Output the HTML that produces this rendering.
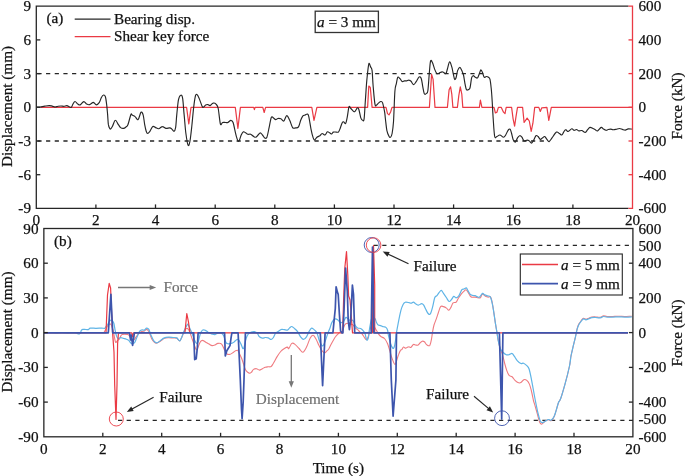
<!DOCTYPE html><html><head><meta charset="utf-8"><style>html,body{margin:0;padding:0;background:#fff;width:685px;height:476px;overflow:hidden}</style></head><body><svg width="685" height="476" viewBox="0 0 685 476" style="display:block;font-family:'Liberation Serif',serif;font-size:15.2px">
<style>.t{fill:#111;stroke:#111;stroke-width:.25px}.g{fill:#6f6f6f;stroke:#6f6f6f;stroke-width:.2px}</style>
<line x1="36.3" y1="73.6" x2="484" y2="73.6" stroke="#262626" stroke-width="1.3" stroke-dasharray="4.2,4.46" stroke-dashoffset="7.56"/>
<line x1="36.3" y1="141.0" x2="544.5" y2="141.0" stroke="#262626" stroke-width="1.3" stroke-dasharray="4.2,4.46" stroke-dashoffset="7.56"/>
<polyline points="40.4,107.4 186.6,107.4 188.8,124.0 191.0,107.4 235.3,107.4 237.9,128.4 240.4,107.4 253.7,107.4 254.4,109.7 255.1,107.4 262.8,107.4 264.2,112.5 265.6,107.4 311.8,107.4 314.0,120.3 316.9,107.4 367.6,107.4 368.8,86.0 370.3,87.5 372.1,107.4 386.0,107.4 387.5,113.6 389.0,114.9 390.6,112.0 392.0,107.4 429.4,107.4 431.6,74.3 433.1,79.4 435.0,107.4 447.4,107.4 449.1,89.7 450.6,86.8 451.8,94.1 452.9,107.4 457.4,107.4 458.8,95.6 460.3,86.8 461.8,94.1 462.8,107.4 479.4,107.4 480.4,100.0 481.9,107.4 494.0,107.4 495.4,113.0 496.9,112.2 498.4,107.4 501.3,107.4 503.5,112.2 505.0,113.7 506.2,107.4 511.6,107.4 513.1,118.8 514.6,126.2 516.0,116.6 517.5,107.4 522.6,107.4 524.1,122.5 527.1,118.1 529.3,121.0 531.2,131.3 532.9,123.2 534.7,107.4 538.8,107.4 540.3,111.5 541.8,107.8 546.9,107.4 548.8,120.3 551.3,107.4 632.0,107.4" fill="none" stroke="#ea3a44" stroke-width="1.2" stroke-linejoin="round" />
<path d="M37.0,107.0 C37.6,107.0 39.1,107.2 40.4,107.0 C41.7,106.8 43.3,106.3 44.8,106.1 C46.3,105.9 48.0,105.6 49.2,105.6 C50.4,105.6 51.2,105.9 52.2,106.1 C53.2,106.3 54.1,107.0 55.1,107.0 C56.1,107.0 57.0,106.5 58.0,106.3 C59.0,106.1 60.0,106.0 61.0,106.0 C62.0,106.0 62.9,106.4 63.9,106.3 C64.9,106.2 66.0,105.5 66.9,105.6 C67.8,105.7 68.4,106.5 69.1,106.8 C69.8,107.1 70.6,107.8 71.3,107.3 C72.0,106.8 72.4,105.0 73.0,104.0 C73.6,103.0 74.2,101.5 75.0,101.5 C75.8,101.5 77.1,103.5 77.9,104.1 C78.8,104.7 79.1,105.3 80.1,104.9 C81.1,104.5 82.7,101.7 83.8,101.6 C84.9,101.5 85.7,103.6 86.7,104.1 C87.7,104.6 88.6,104.9 89.7,104.6 C90.8,104.3 92.3,102.4 93.4,102.4 C94.5,102.5 95.3,104.9 96.3,104.9 C97.3,104.9 98.3,103.8 99.2,102.6 C100.1,101.4 100.7,98.8 101.4,97.5 C102.1,96.2 102.9,95.1 103.6,95.0 C104.3,94.9 104.9,95.3 105.4,96.8 C105.9,98.3 106.2,101.2 106.6,104.1 C107.0,107.0 107.3,111.0 107.6,114.4 C107.9,117.8 108.0,122.2 108.4,124.7 C108.9,127.2 109.6,128.8 110.3,129.1 C111.0,129.3 111.7,127.7 112.5,126.2 C113.3,124.7 114.4,120.5 115.4,120.3 C116.4,120.0 117.5,123.5 118.4,124.7 C119.3,125.9 119.8,127.0 120.6,127.6 C121.4,128.2 122.7,128.5 123.5,128.4 C124.3,128.3 125.0,127.8 125.7,127.2 C126.4,126.6 127.0,126.8 127.9,124.7 C128.8,122.6 130.2,116.0 130.9,114.4 C131.6,112.8 131.5,114.7 132.2,115.1 C132.9,115.5 134.1,115.8 135.1,116.6 C136.1,117.3 137.1,120.3 138.1,119.6 C139.1,118.9 140.2,113.0 141.0,112.2 C141.8,111.5 142.6,113.0 143.2,115.1 C143.8,117.2 144.2,122.0 144.7,124.7 C145.2,127.4 145.7,129.8 146.2,131.3 C146.7,132.8 147.0,133.5 147.6,133.5 C148.2,133.5 149.0,132.5 149.9,131.3 C150.8,130.1 151.8,127.1 152.8,126.5 C153.8,125.9 154.7,127.2 155.7,127.6 C156.7,128.0 157.6,128.9 158.7,128.7 C159.8,128.5 161.2,126.6 162.4,126.6 C163.6,126.5 164.8,128.2 166.0,128.4 C167.2,128.6 168.7,127.8 169.7,127.9 C170.7,128.0 171.2,128.5 171.9,129.1 C172.6,129.7 173.5,131.6 174.1,131.3 C174.7,131.1 175.1,130.4 175.6,127.6 C176.1,124.8 176.3,119.1 176.8,114.4 C177.3,109.8 177.8,102.9 178.5,99.7 C179.2,96.5 180.0,95.5 180.7,95.3 C181.4,95.0 182.0,95.0 182.6,98.2 C183.2,101.4 183.5,108.5 184.1,114.4 C184.7,120.3 185.2,128.3 185.9,133.5 C186.6,138.7 187.4,144.1 188.1,145.3 C188.8,146.5 189.4,144.1 190.0,140.9 C190.6,137.7 191.2,131.8 191.8,126.2 C192.4,120.6 193.1,112.1 193.7,107.1 C194.3,102.1 194.9,98.1 195.4,96.0 C195.9,93.9 196.3,94.2 196.9,94.6 C197.5,95.0 198.2,96.2 199.1,98.2 C200.0,100.2 201.4,104.8 202.1,106.3 C202.8,107.8 202.9,107.3 203.5,107.1 C204.1,106.9 205.0,105.3 205.7,104.9 C206.4,104.5 207.2,104.5 207.9,104.6 C208.6,104.7 209.2,105.8 210.1,105.6 C211.0,105.3 212.1,103.3 213.1,103.1 C214.1,102.8 215.2,103.2 216.0,104.1 C216.8,105.0 217.5,105.2 218.2,108.5 C218.9,111.8 219.7,121.7 220.4,124.0 C221.1,126.3 221.7,122.8 222.6,122.5 C223.5,122.2 224.7,122.5 225.6,122.5 C226.5,122.5 227.0,122.9 227.9,122.5 C228.8,122.1 230.0,120.3 230.9,120.3 C231.8,120.3 232.4,120.5 233.1,122.5 C233.8,124.5 234.7,129.5 235.3,132.1 C235.9,134.7 236.3,136.4 236.8,137.9 C237.3,139.4 237.7,141.1 238.2,141.3 C238.7,141.6 239.2,140.5 239.7,139.4 C240.2,138.3 240.6,136.3 241.2,135.0 C241.8,133.7 242.7,132.2 243.4,131.8 C244.1,131.4 244.9,132.4 245.6,132.8 C246.3,133.2 247.0,134.1 247.8,134.3 C248.7,134.6 249.7,133.9 250.7,134.3 C251.7,134.7 252.8,136.0 253.7,136.5 C254.6,137.0 255.2,137.4 255.9,137.2 C256.6,136.9 257.4,135.7 258.1,135.0 C258.8,134.3 259.6,132.8 260.3,132.8 C261.0,132.8 261.8,134.2 262.5,135.0 C263.2,135.8 264.0,137.5 264.7,137.9 C265.4,138.3 266.2,138.9 266.9,137.2 C267.6,135.5 268.4,130.9 269.1,127.6 C269.8,124.3 270.6,119.0 271.3,117.4 C272.0,115.8 272.8,117.7 273.5,118.1 C274.2,118.5 275.0,119.5 275.7,119.6 C276.4,119.7 277.0,118.6 277.9,118.5 C278.8,118.4 279.9,118.4 280.9,118.8 C281.9,119.2 282.8,121.5 283.8,121.0 C284.8,120.5 285.8,115.7 286.8,115.6 C287.8,115.5 288.7,118.3 289.7,120.3 C290.7,122.3 291.6,126.3 292.6,127.6 C293.6,128.9 294.6,128.0 295.6,127.9 C296.6,127.8 297.6,128.2 298.5,126.9 C299.4,125.6 300.0,122.1 300.7,120.3 C301.4,118.5 302.2,116.8 302.9,115.9 C303.6,115.0 304.4,115.4 305.1,115.1 C305.9,114.8 306.8,113.8 307.4,114.1 C308.0,114.3 308.2,114.1 308.8,116.6 C309.4,119.1 310.3,125.5 311.0,129.1 C311.7,132.7 312.6,136.1 313.2,137.9 C313.8,139.7 314.1,140.2 314.7,140.1 C315.3,140.0 316.0,137.9 316.9,137.2 C317.8,136.5 319.0,136.3 319.9,135.7 C320.8,135.1 321.2,133.6 322.1,133.5 C323.0,133.4 324.2,135.3 325.1,135.0 C326.0,134.7 326.6,132.2 327.4,131.8 C328.1,131.4 328.9,132.4 329.6,132.8 C330.3,133.2 331.2,134.1 331.8,134.0 C332.4,133.9 332.5,132.4 333.2,132.1 C333.9,131.8 335.3,132.1 336.2,132.1 C337.1,132.1 337.8,132.6 338.4,132.1 C339.0,131.6 339.3,130.6 339.9,129.1 C340.5,127.6 341.5,124.1 342.1,122.9 C342.7,121.7 342.9,121.7 343.5,121.8 C344.1,121.9 345.1,124.2 345.7,123.5 C346.3,122.8 346.6,120.2 347.2,117.4 C347.8,114.6 348.4,108.3 349.0,106.8 C349.6,105.3 350.0,107.7 350.9,108.5 C351.8,109.3 353.3,111.9 354.4,111.8 C355.5,111.7 356.7,108.1 357.5,107.8 C358.3,107.5 358.4,108.3 359.0,110.0 C359.6,111.7 360.3,116.4 360.9,118.1 C361.5,119.8 362.1,120.2 362.6,120.3 C363.1,120.4 363.6,122.2 364.1,118.8 C364.6,115.4 364.9,106.6 365.4,100.0 C365.9,93.4 366.3,85.4 366.9,79.4 C367.5,73.4 368.2,66.1 368.8,64.0 C369.4,61.9 370.1,65.8 370.6,66.9 C371.2,68.0 371.7,67.3 372.1,70.6 C372.5,73.9 372.7,81.2 373.2,86.8 C373.7,92.4 374.4,101.4 375.0,104.4 C375.6,107.5 375.9,105.3 376.5,105.1 C377.1,104.8 378.0,103.5 378.7,102.9 C379.4,102.3 380.2,101.5 380.9,101.5 C381.5,101.5 382.0,101.2 382.6,102.9 C383.2,104.6 384.1,109.2 384.6,111.8 C385.1,114.4 385.0,115.7 385.4,118.8 C385.8,121.9 386.3,127.6 386.9,130.6 C387.5,133.5 388.5,135.4 389.1,136.5 C389.7,137.6 390.1,137.7 390.6,137.2 C391.1,136.7 391.6,136.1 392.1,133.5 C392.6,130.9 393.0,128.8 393.5,121.8 C394.0,114.8 394.4,97.5 394.9,91.2 C395.4,84.9 395.8,86.1 396.3,83.8 C396.8,81.5 397.2,78.0 397.8,77.2 C398.4,76.4 399.3,78.0 400.0,78.7 C400.7,79.4 401.5,81.2 402.2,81.6 C402.9,82.0 403.7,81.0 404.4,80.9 C405.1,80.8 405.9,81.0 406.6,80.9 C407.3,80.8 408.1,80.0 408.8,80.1 C409.5,80.1 410.2,80.5 411.0,81.2 C411.8,82.0 412.6,84.5 413.5,84.6 C414.4,84.7 415.3,82.9 416.2,81.6 C417.1,80.3 418.2,77.4 419.1,76.9 C420.0,76.4 420.7,77.1 421.3,78.7 C421.9,80.3 422.3,84.3 422.8,86.8 C423.3,89.3 423.7,92.7 424.3,93.8 C424.9,94.9 425.9,94.0 426.5,93.4 C427.1,92.8 427.4,94.0 427.9,90.4 C428.4,86.9 428.9,77.0 429.4,72.1 C429.8,67.2 430.1,62.6 430.6,61.0 C431.1,59.4 431.7,61.1 432.4,62.5 C433.1,63.9 433.9,67.3 434.6,69.1 C435.3,70.9 436.1,72.8 436.8,73.5 C437.5,74.2 438.3,73.4 439.0,73.2 C439.7,73.0 440.6,72.3 441.2,72.1 C441.8,71.9 442.1,71.8 442.9,72.0 C443.7,72.2 445.1,74.0 445.9,73.5 C446.6,73.0 446.8,71.0 447.4,69.0 C448.0,67.0 448.9,62.1 449.6,61.8 C450.3,61.4 451.2,65.0 451.8,66.9 C452.4,68.9 452.7,71.4 453.2,73.5 C453.7,75.6 454.2,78.8 454.7,79.4 C455.2,80.0 455.7,78.7 456.2,77.2 C456.7,75.7 457.0,72.2 457.6,70.6 C458.2,69.0 459.2,67.4 459.9,67.4 C460.6,67.4 461.2,69.3 461.8,70.6 C462.4,71.9 463.0,72.8 463.5,75.0 C464.0,77.2 464.5,81.3 465.0,83.8 C465.5,86.2 465.9,88.8 466.5,89.7 C467.1,90.6 468.1,89.8 468.7,89.4 C469.3,89.0 469.6,89.4 470.1,87.5 C470.6,85.6 471.1,79.9 471.6,77.9 C472.1,75.9 472.5,75.8 473.1,75.7 C473.7,75.6 474.6,76.8 475.3,77.2 C476.0,77.6 476.8,78.5 477.5,77.9 C478.2,77.3 478.8,74.8 479.4,73.5 C480.0,72.2 480.4,70.0 480.9,69.9 C481.4,69.8 482.1,71.6 482.6,72.8 C483.1,74.0 483.5,76.6 484.1,77.2 C484.7,77.8 485.6,76.5 486.3,76.5 C487.0,76.5 487.9,76.7 488.5,77.2 C489.1,77.7 489.6,77.6 490.0,79.4 C490.4,81.2 490.8,84.5 491.2,88.2 C491.6,91.9 491.9,96.4 492.2,101.5 C492.5,106.6 492.8,113.0 493.2,118.8 C493.6,124.6 494.1,133.6 494.7,136.5 C495.3,139.4 496.0,136.8 496.9,136.5 C497.8,136.2 498.8,134.9 499.9,135.0 C501.0,135.1 502.5,137.2 503.5,137.2 C504.5,137.2 505.0,136.1 505.7,135.0 C506.4,133.9 507.2,131.6 507.9,130.6 C508.6,129.6 509.5,128.6 510.1,129.1 C510.7,129.6 511.1,131.8 511.6,133.5 C512.1,135.2 512.5,138.0 513.1,139.4 C513.7,140.8 514.6,142.3 515.3,142.1 C516.0,141.8 516.8,139.0 517.5,137.9 C518.2,136.8 519.0,135.8 519.7,135.7 C520.4,135.6 521.2,136.3 521.9,137.2 C522.6,138.1 523.2,140.4 524.1,140.9 C525.0,141.4 526.2,140.1 527.1,140.1 C528.0,140.1 528.6,140.4 529.3,140.9 C530.0,141.4 530.8,143.2 531.5,143.1 C532.2,143.0 533.0,141.3 533.7,140.1 C534.4,138.9 535.2,136.3 535.9,135.7 C536.6,135.1 537.4,135.9 538.1,136.5 C538.8,137.1 539.6,139.2 540.3,139.4 C541.0,139.6 541.8,138.4 542.5,137.9 C543.2,137.4 544.0,136.2 544.7,136.5 C545.4,136.8 546.2,138.6 546.9,139.4 C547.6,140.2 548.2,141.8 549.1,141.6 C550.0,141.3 550.8,139.5 552.0,137.9 C553.2,136.3 555.3,132.8 556.5,132.1 C557.7,131.4 558.5,133.0 559.4,133.5 C560.3,134.0 561.1,135.2 561.8,135.0 C562.5,134.8 562.9,133.3 563.5,132.4 C564.1,131.5 564.8,129.8 565.6,129.7 C566.4,129.5 567.2,131.7 568.2,131.5 C569.2,131.3 570.8,129.0 571.8,128.8 C572.8,128.6 573.3,130.2 574.1,130.3 C574.9,130.4 575.7,129.4 576.5,129.5 C577.3,129.6 577.9,130.7 578.8,130.9 C579.7,131.1 580.7,130.2 581.8,130.5 C582.9,130.8 584.3,132.5 585.3,132.4 C586.3,132.3 586.8,130.5 587.6,129.7 C588.4,128.9 589.1,127.6 590.0,127.4 C590.9,127.2 592.0,128.1 592.9,128.5 C593.8,128.9 594.5,129.3 595.3,129.7 C596.1,130.1 596.6,131.3 597.6,130.9 C598.6,130.5 600.2,127.7 601.2,127.4 C602.2,127.1 602.7,128.6 603.5,129.1 C604.3,129.6 605.1,130.2 605.9,130.3 C606.7,130.4 607.4,129.7 608.2,129.5 C609.0,129.3 609.8,129.1 610.6,129.1 C611.4,129.1 612.0,129.6 612.9,129.7 C613.8,129.8 614.8,129.6 615.9,129.4 C617.0,129.2 618.3,128.5 619.4,128.5 C620.5,128.5 621.4,129.1 622.4,129.4 C623.4,129.7 624.3,130.2 625.3,130.1 C626.3,130.0 627.1,129.1 628.2,128.9 C629.3,128.7 631.2,129.1 631.8,129.1" fill="none" stroke="#262626" stroke-width="1.15" stroke-linejoin="round"/>
<path d="M628.5,6.2 H36.3 V208.4 H628.5" fill="none" stroke="#262626" stroke-width="1.3"/>
<path d="M628.5,6.2 H632.5 V208.4 H628.5" fill="none" stroke="#ea3a44" stroke-width="1.3"/>
<line x1="36.3" y1="39.9" x2="40.3" y2="39.9" stroke="#262626" stroke-width="1.3"/>
<text x="31" y="44.9" text-anchor="end" class="t">6</text>
<line x1="36.3" y1="73.6" x2="40.3" y2="73.6" stroke="#262626" stroke-width="1.3"/>
<text x="31" y="78.6" text-anchor="end" class="t">3</text>
<line x1="36.3" y1="107.3" x2="40.3" y2="107.3" stroke="#262626" stroke-width="1.3"/>
<text x="31" y="112.3" text-anchor="end" class="t">0</text>
<line x1="36.3" y1="141.0" x2="40.3" y2="141.0" stroke="#262626" stroke-width="1.3"/>
<text x="31" y="146.0" text-anchor="end" class="t">-3</text>
<line x1="36.3" y1="174.7" x2="40.3" y2="174.7" stroke="#262626" stroke-width="1.3"/>
<text x="31" y="179.7" text-anchor="end" class="t">-6</text>
<text x="31" y="11.2" text-anchor="end" class="t">9</text>
<text x="31" y="213.4" text-anchor="end" class="t">-9</text>
<line x1="628.5" y1="39.9" x2="632.5" y2="39.9" stroke="#ea3a44" stroke-width="1.3"/>
<line x1="628.5" y1="73.6" x2="632.5" y2="73.6" stroke="#ea3a44" stroke-width="1.3"/>
<line x1="628.5" y1="107.3" x2="632.5" y2="107.3" stroke="#ea3a44" stroke-width="1.3"/>
<line x1="628.5" y1="141.0" x2="632.5" y2="141.0" stroke="#ea3a44" stroke-width="1.3"/>
<line x1="628.5" y1="174.7" x2="632.5" y2="174.7" stroke="#ea3a44" stroke-width="1.3"/>
<text x="638.5" y="11.2" class="t">600</text>
<text x="638.5" y="44.9" class="t">400</text>
<text x="638.5" y="78.6" class="t">200</text>
<text x="638.5" y="112.3" class="t">0</text>
<text x="638.5" y="146.0" class="t">-200</text>
<text x="638.5" y="179.7" class="t">-400</text>
<text x="638.5" y="213.4" class="t">-600</text>
<line x1="95.9" y1="208.4" x2="95.9" y2="204.4" stroke="#262626" stroke-width="1.3"/>
<line x1="155.5" y1="208.4" x2="155.5" y2="204.4" stroke="#262626" stroke-width="1.3"/>
<line x1="215.2" y1="208.4" x2="215.2" y2="204.4" stroke="#262626" stroke-width="1.3"/>
<line x1="274.8" y1="208.4" x2="274.8" y2="204.4" stroke="#262626" stroke-width="1.3"/>
<line x1="334.4" y1="208.4" x2="334.4" y2="204.4" stroke="#262626" stroke-width="1.3"/>
<line x1="394.0" y1="208.4" x2="394.0" y2="204.4" stroke="#262626" stroke-width="1.3"/>
<line x1="453.6" y1="208.4" x2="453.6" y2="204.4" stroke="#262626" stroke-width="1.3"/>
<line x1="513.3" y1="208.4" x2="513.3" y2="204.4" stroke="#262626" stroke-width="1.3"/>
<line x1="572.9" y1="208.4" x2="572.9" y2="204.4" stroke="#262626" stroke-width="1.3"/>
<text x="36.3" y="224.5" text-anchor="middle" class="t">0</text>
<text x="95.9" y="224.5" text-anchor="middle" class="t">2</text>
<text x="155.5" y="224.5" text-anchor="middle" class="t">4</text>
<text x="215.2" y="224.5" text-anchor="middle" class="t">6</text>
<text x="274.8" y="224.5" text-anchor="middle" class="t">8</text>
<text x="334.4" y="224.5" text-anchor="middle" class="t">10</text>
<text x="394.0" y="224.5" text-anchor="middle" class="t">12</text>
<text x="453.6" y="224.5" text-anchor="middle" class="t">14</text>
<text x="513.3" y="224.5" text-anchor="middle" class="t">16</text>
<text x="572.9" y="224.5" text-anchor="middle" class="t">18</text>
<text x="632.5" y="224.5" text-anchor="middle" class="t">20</text>
<text transform="translate(12.2,106.5) rotate(-90)" text-anchor="middle" class="t">Displacement (mm)</text>
<text transform="translate(681.5,106) rotate(-90)" text-anchor="middle" class="t">Force (kN)</text>
<text x="46.5" y="22.8" class="t">(a)</text>
<line x1="74.7" y1="19.1" x2="110.5" y2="19.1" stroke="#262626" stroke-width="1.3"/>
<line x1="74.7" y1="36.7" x2="110.5" y2="36.7" stroke="#ea3a44" stroke-width="1.3"/>
<text x="114" y="24.2" class="t">Bearing disp.</text>
<text x="114" y="41" class="t">Shear key force</text>
<rect x="315.2" y="11.2" width="63.2" height="21.3" fill="#fff" stroke="#333" stroke-width="1.3"/>
<text x="317" y="26.6" class="t"><tspan font-style="italic">a</tspan> = 3 mm</text>
<line x1="373.6" y1="245.3" x2="632.9" y2="245.3" stroke="#262626" stroke-width="1.3" stroke-dasharray="4.2,4.46"/>
<line x1="118" y1="420.4" x2="632.9" y2="420.4" stroke="#262626" stroke-width="1.3" stroke-dasharray="4.2,4.46"/>
<path d="M104.0,332.6 C104.4,331.8 105.8,329.4 106.5,328.0 C107.2,326.6 107.8,325.1 108.5,324.5 C109.2,323.9 110.2,323.6 111.0,324.5 C111.8,325.4 112.2,327.1 113.0,330.0 C113.8,332.9 114.8,340.3 115.5,342.0 C116.2,343.7 116.9,340.9 117.5,340.4 C118.1,339.9 118.7,340.0 119.3,339.2 C119.9,338.4 120.5,336.4 121.0,335.6 C121.5,334.8 121.6,334.7 122.2,334.5 C122.8,334.3 123.7,334.2 124.6,334.2 C125.5,334.2 126.7,334.3 127.5,334.5 C128.3,334.7 128.7,334.8 129.3,335.6 C129.9,336.4 130.5,338.4 131.1,339.2 C131.7,340.0 132.2,340.4 132.8,340.4 C133.4,340.4 134.1,339.7 134.6,339.2 C135.1,338.7 135.3,338.1 135.8,337.4 C136.3,336.7 136.9,335.8 137.5,335.0 C138.1,334.2 138.6,333.3 139.3,332.7 C140.0,332.1 140.8,331.8 141.6,331.5 C142.4,331.2 143.6,331.2 144.4,330.9 C145.2,330.5 145.9,329.3 146.6,329.4 C147.3,329.5 147.9,329.9 148.8,331.5 C149.7,333.1 150.8,337.1 151.8,339.0 C152.8,340.9 153.8,341.9 154.7,342.6 C155.6,343.3 156.0,343.3 157.0,343.0 C158.0,342.7 159.3,341.8 160.6,341.0 C161.8,340.2 163.2,338.9 164.5,338.3 C165.8,337.7 167.3,337.7 168.7,337.6 C170.1,337.6 171.8,337.9 173.1,338.0 C174.4,338.1 175.7,337.8 176.8,338.3 C177.9,338.8 178.8,341.2 179.7,341.0 C180.5,340.8 181.2,338.6 181.9,337.0 C182.6,335.4 183.4,333.0 184.1,331.6 C184.8,330.2 185.6,328.9 186.3,328.5 C187.0,328.1 187.8,328.5 188.5,329.5 C189.2,330.5 190.0,332.7 190.7,334.6 C191.4,336.6 192.2,339.1 192.9,341.2 C193.6,343.3 194.5,345.6 195.1,347.1 C195.7,348.6 196.1,350.0 196.6,350.0 C197.1,350.0 197.5,348.5 198.1,347.1 C198.7,345.8 199.6,343.0 200.3,341.9 C201.0,340.8 201.7,340.4 202.5,340.4 C203.3,340.4 204.3,341.3 205.4,341.9 C206.5,342.5 208.0,343.5 209.1,344.1 C210.2,344.7 211.1,345.5 212.1,345.6 C213.1,345.7 214.0,345.3 215.0,344.9 C216.0,344.5 216.8,343.5 217.9,343.4 C219.0,343.3 220.5,343.0 221.6,344.1 C222.7,345.2 223.7,348.4 224.6,350.0 C225.5,351.6 226.0,353.0 226.8,353.7 C227.7,354.4 228.7,354.5 229.7,354.4 C230.7,354.3 231.6,353.5 232.6,352.9 C233.6,352.3 234.7,351.1 235.6,350.7 C236.5,350.3 237.3,350.1 237.8,350.3 C238.3,350.6 238.1,350.8 238.8,352.2 C239.5,353.6 240.8,356.2 241.8,358.8 C242.8,361.4 244.0,365.6 244.7,367.6 C245.4,369.6 245.5,370.0 246.2,370.9 C246.9,371.8 248.2,372.9 249.1,373.1 C249.9,373.4 250.6,373.0 251.3,372.4 C252.0,371.8 252.6,370.0 253.5,369.4 C254.4,368.8 255.5,368.6 256.5,368.7 C257.5,368.8 258.4,370.1 259.4,370.1 C260.4,370.1 261.4,369.2 262.4,368.7 C263.4,368.2 264.3,367.5 265.3,367.2 C266.3,366.9 267.2,366.9 268.2,366.8 C269.2,366.7 270.3,367.1 271.2,366.5 C272.1,365.9 272.4,364.8 273.4,363.2 C274.4,361.6 275.9,358.6 277.1,356.6 C278.3,354.7 279.5,352.9 280.7,351.5 C281.9,350.1 283.3,349.2 284.4,348.5 C285.5,347.8 286.7,347.1 287.4,347.1 C288.1,347.1 288.1,349.1 288.8,348.5 C289.5,347.9 290.8,344.1 291.8,343.4 C292.8,342.7 293.5,343.2 294.7,344.1 C295.9,345.0 297.8,347.1 299.1,348.5 C300.5,349.9 301.6,352.4 302.8,352.2 C304.0,352.0 305.3,349.4 306.5,347.1 C307.7,344.8 309.0,340.2 310.1,338.2 C311.2,336.2 312.1,335.2 313.1,335.3 C314.1,335.4 315.0,337.3 316.0,339.0 C317.0,340.7 318.0,343.7 319.0,345.6 C320.0,347.6 321.0,349.5 321.9,350.7 C322.8,351.9 323.6,352.9 324.4,353.0 C325.2,353.1 325.9,351.9 326.6,351.2 C327.3,350.5 328.1,350.1 328.8,349.0 C329.5,347.9 330.2,346.0 331.0,344.5 C331.8,343.0 332.8,341.2 333.5,340.0 C334.2,338.8 334.6,337.9 335.3,337.0 C336.0,336.1 336.8,335.2 337.6,334.4 C338.4,333.6 339.2,332.7 340.0,332.1 C340.8,331.5 341.6,332.1 342.4,330.9 C343.2,329.7 343.9,326.3 344.7,325.0 C345.5,323.7 346.2,323.3 347.1,323.2 C348.0,323.1 349.1,324.2 350.0,324.4 C350.9,324.6 351.7,324.1 352.4,324.4 C353.1,324.7 353.5,325.5 354.1,326.2 C354.7,326.9 355.3,327.9 355.9,328.5 C356.5,329.1 356.9,329.1 357.6,329.7 C358.3,330.3 359.2,331.3 360.0,332.1 C360.8,332.9 361.6,333.4 362.4,334.4 C363.2,335.4 364.0,337.0 364.7,337.9 C365.4,338.8 365.9,339.9 366.5,339.7 C367.1,339.5 367.6,338.5 368.2,336.8 C368.8,335.1 369.4,331.8 370.0,329.7 C370.6,327.6 371.2,324.8 371.8,324.1 C372.4,323.4 372.9,324.6 373.5,325.3 C374.1,326.0 374.7,327.5 375.3,328.5 C375.9,329.5 376.5,330.5 377.1,331.5 C377.7,332.5 378.1,333.5 378.8,334.4 C379.5,335.3 380.2,336.1 381.2,336.8 C382.1,337.5 383.4,337.3 384.5,338.5 C385.6,339.7 386.7,341.7 387.6,343.8 C388.5,345.9 389.1,348.8 389.9,351.2 C390.6,353.6 391.2,356.3 392.1,358.5 C393.0,360.7 394.1,364.3 395.0,364.4 C395.9,364.4 396.6,360.5 397.2,358.8 C397.8,357.1 398.1,355.8 398.7,354.4 C399.2,353.0 399.9,351.2 400.5,350.4 C401.1,349.5 401.5,349.9 402.0,349.3 C402.5,348.8 402.9,347.3 403.5,347.1 C404.1,346.9 404.7,348.1 405.3,348.2 C405.9,348.2 406.5,347.6 407.1,347.4 C407.7,347.1 408.4,346.7 409.0,346.7 C409.6,346.7 410.1,347.8 410.8,347.4 C411.5,347.0 412.6,344.9 413.4,344.5 C414.2,344.1 414.9,344.9 415.6,345.0 C416.3,345.1 417.1,345.5 417.8,345.2 C418.5,344.9 419.3,343.7 420.0,343.0 C420.7,342.3 421.5,341.4 422.2,341.2 C422.9,341.0 423.7,341.3 424.4,341.8 C425.1,342.3 425.7,343.7 426.3,344.3 C426.9,344.9 427.5,345.5 428.1,345.6 C428.7,345.8 429.3,346.2 429.9,345.2 C430.4,344.2 431.0,341.8 431.4,339.7 C431.8,337.6 432.1,334.8 432.5,332.4 C432.9,329.9 433.4,327.2 434.0,325.0 C434.6,322.8 435.5,321.2 436.2,319.1 C436.9,317.0 437.7,314.6 438.4,312.5 C439.1,310.4 439.8,307.6 440.6,306.6 C441.5,305.6 442.5,306.4 443.5,306.6 C444.5,306.9 445.6,307.5 446.5,308.1 C447.4,308.7 448.0,310.4 448.7,310.3 C449.4,310.2 450.2,308.6 450.9,307.4 C451.6,306.2 452.2,303.8 453.1,302.9 C454.0,302.0 455.1,302.9 456.0,302.2 C456.9,301.5 457.3,299.9 458.2,298.5 C459.1,297.1 460.2,295.3 461.2,294.1 C462.2,292.9 463.3,291.9 464.1,291.2 C464.9,290.5 465.3,289.6 465.9,289.7 C466.5,289.8 467.1,290.9 467.8,291.9 C468.5,292.9 469.4,294.7 470.0,295.6 C470.6,296.5 470.6,296.9 471.5,297.1 C472.4,297.4 474.0,297.0 475.1,297.1 C476.2,297.2 477.2,297.7 478.1,297.8 C479.0,297.9 479.6,298.4 480.3,297.8 C481.0,297.2 481.6,294.4 482.5,294.1 C483.4,293.9 484.4,295.8 485.4,296.3 C486.4,296.8 487.5,297.0 488.4,297.1 C489.3,297.2 489.9,296.0 490.6,297.1 C491.3,298.2 491.9,300.9 492.4,303.5 C492.9,306.1 493.3,309.2 493.8,312.4 C494.3,315.6 494.8,319.4 495.3,322.6 C495.8,325.8 496.3,328.6 496.8,331.5 C497.3,334.4 497.6,337.4 498.2,340.3 C498.8,343.2 499.6,346.4 500.3,348.8 C501.0,351.2 501.8,352.2 502.5,354.7 C503.2,357.1 504.0,360.8 504.7,363.5 C505.4,366.2 506.2,368.9 506.9,370.9 C507.6,372.9 508.2,374.3 509.1,375.3 C510.0,376.3 511.1,376.0 512.1,376.8 C513.1,377.6 514.0,379.4 515.0,380.4 C516.0,381.4 516.9,382.2 517.9,382.6 C518.9,383.0 519.9,383.1 520.9,382.6 C521.9,382.1 522.8,380.1 523.8,379.7 C524.8,379.3 525.9,379.7 526.8,380.4 C527.7,381.1 528.7,382.5 529.4,384.1 C530.1,385.7 530.5,387.3 531.2,390.0 C531.9,392.7 532.9,398.0 533.4,400.3 C533.9,402.6 533.8,401.5 534.5,403.8 C535.2,406.1 536.5,411.0 537.4,414.0 C538.2,417.0 538.9,420.3 539.6,422.0 C540.3,423.7 540.8,424.1 541.4,424.2 C542.0,424.3 542.6,423.2 543.3,422.7 C544.0,422.2 544.6,421.5 545.5,421.0 C546.4,420.5 547.4,419.9 548.4,419.8 C549.4,419.7 550.3,421.2 551.3,420.6 C552.3,420.1 553.4,418.3 554.2,416.5 C555.1,414.7 555.7,412.0 556.4,409.6 C557.1,407.2 557.9,404.1 558.6,402.3 C559.3,400.5 559.5,401.8 560.6,398.8 C561.7,395.8 563.5,389.5 565.0,384.1 C566.5,378.7 568.4,371.2 569.4,366.5 C570.4,361.8 570.4,359.2 571.0,356.0 C571.6,352.8 572.2,350.6 572.9,347.5 C573.6,344.4 574.6,340.7 575.3,337.6 C576.0,334.5 576.5,331.0 577.1,328.8 C577.7,326.5 578.1,325.5 578.8,324.1 C579.5,322.7 580.4,321.6 581.2,320.6 C582.0,319.6 582.7,318.4 583.5,318.2 C584.3,318.0 585.0,319.2 585.9,319.2 C586.8,319.2 587.8,318.6 588.8,318.2 C589.8,317.8 590.7,317.2 591.8,317.0 C592.9,316.8 594.1,316.7 595.3,316.8 C596.5,316.8 597.8,317.3 598.8,317.3 C599.8,317.3 600.4,317.2 601.2,317.0 C602.0,316.8 602.5,316.0 603.5,315.9 C604.5,315.8 605.5,316.4 607.1,316.5 C608.7,316.6 611.0,316.6 612.9,316.5 C614.8,316.4 616.8,316.2 618.8,316.2 C620.8,316.2 622.5,316.5 624.7,316.5 C626.9,316.5 630.6,316.2 631.8,316.2" fill="none" stroke="#ef7b80" stroke-width="1.1" stroke-linejoin="round"/>
<path d="M44.0,332.8 C45.0,332.8 48.0,332.6 50.0,332.6 C52.0,332.6 54.0,332.9 56.0,332.9 C58.0,332.9 60.0,332.5 62.0,332.5 C64.0,332.5 66.0,332.8 68.0,332.8 C70.0,332.8 72.6,332.6 74.0,332.6 C75.4,332.6 75.8,332.8 76.5,333.0 C77.2,333.2 77.9,334.0 78.5,334.0 C79.1,334.0 79.8,333.6 80.3,333.0 C80.8,332.4 81.0,330.8 81.5,330.2 C82.0,329.6 82.2,329.5 83.0,329.4 C83.8,329.3 85.1,329.5 86.0,329.5 C86.9,329.5 87.6,329.8 88.3,329.6 C89.0,329.4 89.0,328.4 90.3,328.2 C91.6,328.0 94.0,328.3 95.9,328.3 C97.8,328.3 100.3,328.1 101.8,328.1 C103.2,328.1 103.9,328.6 104.6,328.3 C105.3,328.1 105.3,327.4 105.9,326.6 C106.5,325.8 107.3,324.6 108.1,323.5 C108.8,322.4 109.7,320.6 110.4,320.2 C111.2,319.8 112.0,320.2 112.6,320.8 C113.2,321.4 113.5,322.0 113.9,323.5 C114.3,325.0 114.6,327.6 115.0,329.6 C115.4,331.6 115.9,334.1 116.4,335.6 C116.9,337.1 117.4,338.2 118.1,338.6 C118.8,339.0 119.6,337.8 120.5,337.7 C121.4,337.6 122.4,338.1 123.4,338.3 C124.4,338.6 125.5,338.9 126.4,339.2 C127.3,339.5 128.0,339.8 128.7,340.4 C129.4,341.0 129.9,342.1 130.5,342.7 C131.1,343.3 131.5,343.9 132.2,343.9 C132.9,343.9 133.9,343.6 134.6,342.7 C135.3,341.8 135.8,340.0 136.4,338.6 C137.0,337.2 137.5,335.8 138.1,334.5 C138.7,333.2 139.2,331.7 139.9,330.9 C140.6,330.1 141.4,329.9 142.2,329.8 C142.9,329.7 143.7,330.4 144.4,330.1 C145.1,329.8 145.9,328.3 146.6,328.2 C147.3,328.1 148.1,328.2 148.8,329.4 C149.5,330.6 150.1,333.3 151.0,335.3 C151.9,337.3 153.0,339.9 154.0,341.2 C155.0,342.5 155.8,343.0 156.9,342.9 C158.0,342.8 159.4,341.2 160.6,340.4 C161.8,339.6 163.0,338.4 164.3,337.9 C165.7,337.3 167.2,337.2 168.7,337.1 C170.2,337.0 171.8,337.4 173.1,337.5 C174.4,337.6 175.7,337.3 176.8,337.9 C177.9,338.5 178.8,341.1 179.7,340.9 C180.5,340.7 181.2,338.5 181.9,336.8 C182.6,335.1 183.4,332.6 184.1,330.9 C184.8,329.2 185.7,327.6 186.3,326.5 C186.9,325.4 187.2,323.9 187.8,324.3 C188.4,324.7 189.3,327.1 190.0,328.7 C190.7,330.3 191.5,332.0 192.2,333.8 C192.9,335.6 193.7,338.1 194.4,339.7 C195.1,341.3 195.9,343.2 196.6,343.4 C197.3,343.6 197.9,342.6 198.5,341.0 C199.1,339.4 199.6,335.6 200.3,333.8 C201.0,332.0 201.8,330.7 202.5,330.1 C203.2,329.5 204.0,329.9 204.7,330.1 C205.4,330.3 206.2,330.7 206.9,331.2 C207.6,331.7 208.2,332.6 209.1,333.1 C210.0,333.6 211.1,333.9 212.1,334.1 C213.1,334.4 214.0,334.8 215.0,334.6 C216.0,334.4 216.8,333.4 217.9,333.1 C219.0,332.9 220.6,332.6 221.6,333.1 C222.6,333.6 223.1,334.4 223.8,336.0 C224.5,337.6 225.3,341.3 226.0,342.6 C226.7,343.9 227.3,343.7 228.2,343.8 C229.1,343.9 230.2,343.7 231.2,343.4 C232.2,343.1 233.2,342.5 234.1,341.9 C234.9,341.3 235.6,340.4 236.3,340.0 C237.0,339.6 237.7,339.0 238.5,339.7 C239.3,340.4 240.2,342.6 241.0,344.1 C241.8,345.6 242.6,349.5 243.5,348.5 C244.4,347.5 245.4,340.6 246.2,338.2 C247.0,335.8 247.6,334.8 248.4,333.8 C249.2,332.8 250.3,332.5 251.3,332.1 C252.3,331.7 253.3,331.4 254.3,331.6 C255.3,331.8 256.4,332.2 257.2,333.1 C258.0,334.0 258.5,336.0 259.4,336.8 C260.3,337.6 261.4,338.1 262.4,338.2 C263.4,338.3 264.3,337.6 265.3,337.5 C266.3,337.4 267.2,337.6 268.2,337.9 C269.2,338.2 270.3,339.5 271.2,339.4 C272.1,339.3 272.7,338.6 273.4,337.5 C274.1,336.4 274.8,334.2 275.6,333.1 C276.5,332.1 277.5,331.8 278.5,331.2 C279.5,330.6 280.5,329.6 281.5,329.4 C282.5,329.1 283.4,329.6 284.4,329.7 C285.4,329.8 286.5,330.4 287.4,330.1 C288.3,329.8 288.9,328.5 289.6,327.9 C290.3,327.3 291.0,326.4 291.8,326.5 C292.6,326.6 293.7,327.8 294.7,328.7 C295.7,329.6 296.6,330.2 297.6,331.6 C298.6,333.0 299.6,335.5 300.6,336.8 C301.6,338.1 302.5,339.4 303.5,339.4 C304.5,339.4 305.5,338.2 306.5,336.8 C307.5,335.4 308.5,332.3 309.4,330.9 C310.2,329.5 310.9,328.4 311.6,328.2 C312.3,327.9 312.9,328.7 313.8,329.4 C314.7,330.1 315.9,330.9 316.8,332.6 C317.7,334.3 318.3,337.7 319.0,339.7 C319.7,341.7 320.5,343.5 321.2,344.5 C321.9,345.5 322.5,346.2 323.2,345.5 C323.9,344.8 324.6,342.5 325.4,340.5 C326.2,338.5 327.0,335.6 327.8,333.5 C328.6,331.4 329.3,329.8 330.0,328.0 C330.7,326.2 331.0,324.1 331.8,322.6 C332.6,321.1 333.7,319.6 334.7,319.1 C335.7,318.6 336.6,319.1 337.6,319.7 C338.6,320.3 339.6,322.3 340.6,322.6 C341.6,322.9 342.6,322.4 343.5,321.5 C344.4,320.6 345.1,317.8 345.9,317.4 C346.7,317.0 347.4,318.5 348.2,319.1 C349.0,319.7 349.8,320.7 350.6,320.9 C351.4,321.1 352.1,319.5 352.9,320.3 C353.7,321.1 354.5,324.3 355.3,325.6 C356.1,326.9 356.7,327.4 357.6,327.9 C358.5,328.4 359.7,328.1 360.6,328.5 C361.5,328.9 362.2,329.5 362.9,330.3 C363.6,331.1 364.4,331.9 365.0,333.5 C365.6,335.1 366.2,339.5 366.8,340.1 C367.4,340.7 368.1,338.9 368.5,337.2 C368.9,335.5 368.8,332.9 369.4,329.7 C369.9,326.5 371.1,319.9 371.8,317.9 C372.5,315.8 372.9,317.2 373.5,317.4 C374.1,317.6 374.8,318.2 375.3,319.1 C375.8,320.0 376.0,321.6 376.5,322.6 C377.0,323.6 377.5,324.5 378.2,325.0 C378.9,325.5 379.7,325.3 380.6,325.6 C381.5,325.9 382.6,326.5 383.5,326.8 C384.4,327.1 385.2,326.8 385.9,327.4 C386.6,328.0 387.2,329.0 387.6,330.3 C388.0,331.6 387.9,332.8 388.4,335.0 C388.9,337.2 389.9,341.6 390.6,343.8 C391.3,346.0 392.2,347.7 392.8,348.2 C393.4,348.7 393.8,348.3 394.3,346.8 C394.8,345.3 395.3,341.8 395.7,339.4 C396.1,337.0 396.0,335.5 396.5,332.4 C397.0,329.3 398.0,324.3 398.7,320.6 C399.4,316.9 400.2,313.0 400.9,310.3 C401.6,307.6 402.4,305.8 403.1,304.4 C403.8,303.0 404.3,302.5 405.3,302.2 C406.3,301.9 408.0,302.4 409.0,302.6 C410.0,302.8 410.5,303.3 411.2,303.2 C411.9,303.1 412.7,302.1 413.4,302.2 C414.1,302.3 414.8,303.2 415.6,303.7 C416.5,304.2 417.5,305.1 418.5,305.1 C419.5,305.1 420.6,303.7 421.5,303.7 C422.4,303.7 423.0,304.1 423.7,305.1 C424.4,306.1 425.2,308.2 425.9,309.6 C426.6,311.0 427.4,312.8 428.1,313.5 C428.8,314.2 429.6,315.0 430.3,314.0 C431.0,313.0 431.8,310.1 432.5,307.4 C433.2,304.7 434.0,299.8 434.7,297.8 C435.4,295.8 436.2,296.5 436.9,295.6 C437.6,294.7 438.4,293.5 439.1,292.6 C439.8,291.7 440.6,290.3 441.3,290.4 C442.0,290.5 442.6,292.2 443.5,293.4 C444.4,294.6 445.6,296.4 446.5,297.8 C447.4,299.2 448.2,301.2 449.1,301.5 C450.0,301.8 450.8,300.2 451.6,299.3 C452.4,298.4 453.1,296.6 453.8,296.3 C454.5,296.1 455.1,297.9 456.0,297.8 C456.9,297.7 458.0,297.0 459.0,295.6 C460.0,294.2 461.0,290.8 461.9,289.7 C462.8,288.6 463.4,289.3 464.1,289.0 C464.8,288.7 465.7,287.7 466.3,287.9 C466.9,288.1 467.2,289.4 467.8,290.4 C468.4,291.4 469.3,293.3 470.0,294.1 C470.7,294.9 471.3,295.1 472.2,295.3 C473.1,295.6 474.2,295.4 475.1,295.6 C476.0,295.9 476.6,296.6 477.4,296.8 C478.1,297.1 478.8,297.7 479.6,297.1 C480.5,296.5 481.6,293.8 482.5,293.4 C483.4,293.0 483.8,294.5 484.7,294.9 C485.6,295.3 486.7,295.6 487.6,295.9 C488.5,296.2 489.6,295.6 490.3,296.8 C491.1,298.0 491.6,300.6 492.1,302.9 C492.6,305.1 493.0,307.0 493.5,310.3 C494.0,313.6 494.8,319.1 495.3,322.6 C495.9,326.1 496.3,328.6 496.8,331.5 C497.3,334.4 497.6,337.4 498.2,340.3 C498.8,343.2 499.5,346.8 500.3,348.8 C501.1,350.8 502.2,351.5 503.2,352.5 C504.2,353.5 505.2,354.3 506.2,354.7 C507.2,355.1 508.1,354.9 509.1,354.7 C510.1,354.5 511.2,353.2 512.1,353.5 C513.0,353.8 513.4,355.0 514.3,356.2 C515.1,357.4 516.1,359.4 517.2,360.6 C518.3,361.8 519.9,363.1 520.9,363.5 C521.9,363.9 522.5,362.8 523.5,363.2 C524.5,363.6 525.9,364.8 526.8,365.7 C527.7,366.6 528.3,366.6 529.0,368.7 C529.7,370.8 530.5,374.6 531.2,378.2 C531.9,381.8 532.7,386.1 533.4,390.0 C534.1,393.9 534.8,397.8 535.6,401.8 C536.4,405.8 537.4,410.8 538.2,414.0 C539.0,417.2 539.7,419.9 540.4,421.3 C541.1,422.8 541.8,422.8 542.6,422.7 C543.5,422.6 544.5,421.5 545.5,421.0 C546.5,420.5 547.4,419.6 548.4,419.5 C549.4,419.4 550.3,420.7 551.3,420.1 C552.3,419.6 553.4,417.9 554.2,416.2 C555.1,414.4 555.7,411.9 556.4,409.6 C557.1,407.3 557.9,404.1 558.6,402.3 C559.3,400.5 559.5,401.8 560.6,398.8 C561.7,395.8 563.5,389.5 565.0,384.1 C566.5,378.7 568.4,371.2 569.4,366.5 C570.4,361.8 570.4,359.2 571.0,356.0 C571.6,352.8 572.2,350.6 572.9,347.5 C573.6,344.4 574.6,340.6 575.3,337.6 C576.0,334.6 576.5,331.5 577.1,329.4 C577.7,327.2 578.1,326.1 578.8,324.7 C579.5,323.3 580.4,322.2 581.2,321.2 C582.0,320.2 582.7,319.0 583.5,318.8 C584.3,318.6 585.0,319.8 585.9,319.8 C586.8,319.8 587.8,319.2 588.8,318.8 C589.8,318.4 590.7,317.8 591.8,317.6 C592.9,317.4 594.1,317.3 595.3,317.4 C596.5,317.4 597.8,317.9 598.8,317.9 C599.8,317.9 600.4,317.8 601.2,317.6 C602.0,317.4 602.5,316.6 603.5,316.5 C604.5,316.4 605.5,317.0 607.1,317.1 C608.7,317.2 611.0,317.2 612.9,317.1 C614.8,317.1 616.8,316.8 618.8,316.8 C620.8,316.8 622.5,317.1 624.7,317.1 C626.9,317.1 630.6,316.9 631.8,316.8" fill="none" stroke="#5fb4e6" stroke-width="1.2" stroke-linejoin="round"/>
<polyline points="44.0,332.9 106.0,332.9 107.5,295.0 109.2,283.3 110.6,288.0 111.5,310.0 112.6,332.9 114.0,352.0 114.7,385.0 116.0,419.5 117.0,385.0 117.6,344.0 118.4,334.0 119.0,332.9 131.8,332.9 132.6,337.0 133.5,332.9 184.9,332.9 186.8,313.5 188.5,322.1 190.0,332.9 342.6,332.9 343.6,300.0 344.8,268.0 346.5,251.5 347.8,275.0 348.6,296.0 350.0,299.7 351.0,312.0 352.5,332.9 372.4,332.9 373.5,245.6 374.7,285.0 374.7,332.9 628.0,332.9" fill="none" stroke="#ea3a44" stroke-width="1.2" stroke-linejoin="round" />
<polyline points="44.0,332.9 108.3,332.9 110.9,294.3 112.7,332.9 129.5,332.9 130.6,340.0 131.3,335.0 132.6,345.5 134.4,332.9 193.7,332.9 194.1,344.1 194.7,359.6 196.2,358.8 197.4,347.1 198.1,332.9 224.6,332.9 225.3,355.9 226.8,350.7 228.2,348.5 230.0,345.6 231.2,336.8 231.9,332.9 238.1,332.9 240.3,379.7 241.5,409.1 242.1,418.7 243.2,401.8 244.0,379.7 245.4,332.9 320.3,332.9 322.6,385.7 325.1,332.9 332.9,332.9 334.1,320.3 335.3,308.5 336.1,286.8 337.4,292.1 338.2,294.4 339.4,314.4 340.6,330.9 341.8,332.9 342.9,332.9 344.1,308.5 345.6,268.0 347.3,291.0 348.2,320.3 349.4,329.7 350.6,320.3 351.8,296.8 352.4,285.0 353.5,294.4 354.1,314.4 354.7,332.9 371.2,332.9 371.8,290.0 372.5,247.0 373.2,290.0 373.9,332.9 389.9,332.9 391.3,380.0 393.1,416.2 395.9,380.0 396.5,332.9 499.4,332.9 501.7,419.1 502.9,332.9 628.0,332.9" fill="none" stroke="#3d55ad" stroke-width="1.7" stroke-linejoin="round" />
<rect x="43.85" y="228.5" width="589.05" height="208.3" fill="none" stroke="#262626" stroke-width="1.3"/>
<line x1="43.85" y1="263.2" x2="47.85" y2="263.2" stroke="#262626" stroke-width="1.3"/>
<line x1="43.85" y1="297.9" x2="47.85" y2="297.9" stroke="#262626" stroke-width="1.3"/>
<line x1="43.85" y1="332.6" x2="47.85" y2="332.6" stroke="#262626" stroke-width="1.3"/>
<line x1="43.85" y1="367.4" x2="47.85" y2="367.4" stroke="#262626" stroke-width="1.3"/>
<line x1="43.85" y1="402.1" x2="47.85" y2="402.1" stroke="#262626" stroke-width="1.3"/>
<text x="38.5" y="233.5" text-anchor="end" class="t">90</text>
<text x="38.5" y="268.2" text-anchor="end" class="t">60</text>
<text x="38.5" y="302.9" text-anchor="end" class="t">30</text>
<text x="38.5" y="337.6" text-anchor="end" class="t">0</text>
<text x="38.5" y="372.4" text-anchor="end" class="t">-30</text>
<text x="38.5" y="407.1" text-anchor="end" class="t">-60</text>
<text x="38.5" y="441.8" text-anchor="end" class="t">-90</text>
<line x1="628.9" y1="263.2" x2="632.9" y2="263.2" stroke="#262626" stroke-width="1.3"/>
<line x1="628.9" y1="297.9" x2="632.9" y2="297.9" stroke="#262626" stroke-width="1.3"/>
<line x1="628.9" y1="332.6" x2="632.9" y2="332.6" stroke="#262626" stroke-width="1.3"/>
<line x1="628.9" y1="367.4" x2="632.9" y2="367.4" stroke="#262626" stroke-width="1.3"/>
<line x1="628.9" y1="402.1" x2="632.9" y2="402.1" stroke="#262626" stroke-width="1.3"/>
<text x="638.5" y="233.5" class="t">600</text>
<text x="638.5" y="250.9" class="t">500</text>
<text x="638.5" y="268.2" class="t">400</text>
<text x="638.5" y="302.9" class="t">200</text>
<text x="638.5" y="337.6" class="t">0</text>
<text x="638.5" y="372.4" class="t">-200</text>
<text x="638.5" y="407.1" class="t">-400</text>
<text x="638.5" y="424.4" class="t">-500</text>
<text x="638.5" y="441.8" class="t">-600</text>
<line x1="102.8" y1="436.8" x2="102.8" y2="432.8" stroke="#262626" stroke-width="1.3"/>
<line x1="161.7" y1="436.8" x2="161.7" y2="432.8" stroke="#262626" stroke-width="1.3"/>
<line x1="220.6" y1="436.8" x2="220.6" y2="432.8" stroke="#262626" stroke-width="1.3"/>
<line x1="279.5" y1="436.8" x2="279.5" y2="432.8" stroke="#262626" stroke-width="1.3"/>
<line x1="338.4" y1="436.8" x2="338.4" y2="432.8" stroke="#262626" stroke-width="1.3"/>
<line x1="397.3" y1="436.8" x2="397.3" y2="432.8" stroke="#262626" stroke-width="1.3"/>
<line x1="456.2" y1="436.8" x2="456.2" y2="432.8" stroke="#262626" stroke-width="1.3"/>
<line x1="515.1" y1="436.8" x2="515.1" y2="432.8" stroke="#262626" stroke-width="1.3"/>
<line x1="574.0" y1="436.8" x2="574.0" y2="432.8" stroke="#262626" stroke-width="1.3"/>
<text x="43.9" y="454" text-anchor="middle" class="t">0</text>
<text x="102.8" y="454" text-anchor="middle" class="t">2</text>
<text x="161.7" y="454" text-anchor="middle" class="t">4</text>
<text x="220.6" y="454" text-anchor="middle" class="t">6</text>
<text x="279.5" y="454" text-anchor="middle" class="t">8</text>
<text x="338.4" y="454" text-anchor="middle" class="t">10</text>
<text x="397.3" y="454" text-anchor="middle" class="t">12</text>
<text x="456.2" y="454" text-anchor="middle" class="t">14</text>
<text x="515.1" y="454" text-anchor="middle" class="t">16</text>
<text x="574.0" y="454" text-anchor="middle" class="t">18</text>
<text x="632.9" y="454" text-anchor="middle" class="t">20</text>
<text x="338.3" y="472.5" text-anchor="middle" class="t">Time (s)</text>
<text transform="translate(11.7,332) rotate(-90)" text-anchor="middle" class="t">Displacement (mm)</text>
<text transform="translate(681.5,333) rotate(-90)" text-anchor="middle" class="t">Force (kN)</text>
<text x="54" y="246" class="t">(b)</text>
<rect x="520.3" y="254" width="102" height="41" fill="#fff" stroke="#262626" stroke-width="1.1"/>
<line x1="522" y1="264.5" x2="558" y2="264.5" stroke="#ea3a44" stroke-width="1.3"/>
<line x1="522" y1="283.6" x2="558" y2="283.6" stroke="#3d55ad" stroke-width="1.7"/>
<text x="561" y="269.6" class="t"><tspan font-style="italic">a</tspan> = 5 mm</text>
<text x="561" y="288.5" class="t"><tspan font-style="italic">a</tspan> = 9 mm</text>
<circle cx="116.3" cy="419" r="7" fill="none" stroke="#ea3a44" stroke-width="0.9"/>
<circle cx="371.7" cy="245" r="7.5" fill="none" stroke="#3d55ad" stroke-width="0.9"/>
<circle cx="373.6" cy="245.1" r="7.3" fill="none" stroke="#ea3a44" stroke-width="0.9"/>
<circle cx="502" cy="418.2" r="7.4" fill="none" stroke="#3d55ad" stroke-width="0.9"/>
<line x1="153.6" y1="397.2" x2="131.6" y2="409.3" stroke="#262626" stroke-width="1.15"/>
<path d="M126.8,412 L131.2,406.6 L133.7,411.1 Z" fill="#262626"/>
<line x1="408.5" y1="263.7" x2="387.7" y2="253.9" stroke="#262626" stroke-width="1.15"/>
<path d="M382.7,251.6 L389.7,252.0 L387.5,256.7 Z" fill="#262626"/>
<line x1="474" y1="396.3" x2="489.0" y2="408.9" stroke="#262626" stroke-width="1.15"/>
<path d="M493.2,412.4 L486.5,410.2 L489.9,406.2 Z" fill="#262626"/>
<line x1="118" y1="287.5" x2="150.7" y2="287.5" stroke="#777" stroke-width="1.3"/>
<path d="M156.2,287.5 L149.7,290.1 L149.7,284.9 Z" fill="#777"/>
<line x1="291.3" y1="354.9" x2="291.3" y2="382.2" stroke="#777" stroke-width="1.3"/>
<path d="M291.3,387.7 L288.7,381.2 L293.9,381.2 Z" fill="#777"/>
<text x="159.2" y="402" class="t">Failure</text>
<text x="413.6" y="271" class="t">Failure</text>
<text x="426.1" y="399" class="t">Failure</text>
<text x="163.5" y="292.2" class="g">Force</text>
<text x="255.8" y="404" class="g">Displacement</text>
</svg></body></html>
